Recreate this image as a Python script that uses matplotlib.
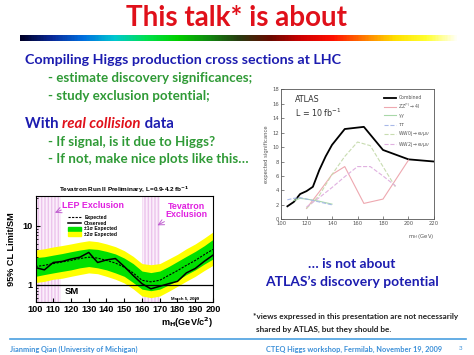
import numpy as np
import matplotlib
matplotlib.use("Agg")
import matplotlib.pyplot as plt
from matplotlib.colors import LinearSegmentedColormap
from matplotlib.patches import Patch
from matplotlib.lines import Line2D
from matplotlib.ticker import NullFormatter

W, H = 474, 355

# Tevatron Run II combined limit / SM, read every 5 GeV
tev_mass = [100, 105, 110, 115, 120, 125, 130, 135, 140, 145, 150,
            155, 160, 165, 170, 175, 180, 185, 190, 195, 200]
tev_expected = [2.05, 2.15, 2.3, 2.45, 2.6, 2.8, 2.95, 2.85, 2.6, 2.35, 2.0,
                1.6, 1.2, 1.13, 1.2, 1.45, 1.75, 2.15, 2.6, 3.25, 4.0]
tev_observed = [1.97, 1.8, 2.4, 2.5, 2.75, 2.95, 3.55, 2.4, 2.65, 2.8, 2.05,
                1.45, 1.05, 0.86, 0.95, 1.05, 1.15, 1.6, 1.9, 2.5, 3.2]
tev_plus1 = [2.9, 3.0, 3.2, 3.4, 3.65, 3.9, 4.1, 4.0, 3.7, 3.35, 2.85,
             2.3, 1.72, 1.62, 1.72, 2.05, 2.5, 3.05, 3.7, 4.6, 5.9]
tev_minus1 = [1.4, 1.5, 1.6, 1.7, 1.8, 1.95, 2.05, 1.95, 1.8, 1.6, 1.4,
              1.1, 0.85, 0.8, 0.85, 1.0, 1.2, 1.5, 1.8, 2.25, 2.75]
tev_plus2 = [3.9, 4.1, 4.4, 4.65, 4.95, 5.3, 5.6, 5.4, 4.95, 4.45, 3.8,
             3.05, 2.3, 2.2, 2.3, 2.75, 3.3, 4.1, 4.95, 6.2, 7.9]
tev_minus2 = [1.1, 1.15, 1.25, 1.3, 1.4, 1.5, 1.6, 1.55, 1.4, 1.25, 1.08,
              0.86, 0.65, 0.61, 0.65, 0.78, 0.95, 1.16, 1.4, 1.75, 2.15]
lep_excl = (100, 114.4)
tev_excl = (160, 170)

# ATLAS expected significance, L = 10 fb-1
comb_mass = [105, 110, 115, 120, 125, 130, 135, 140, 150, 165, 180, 200, 220]
comb_sig = [1.8, 2.4, 3.5, 3.9, 4.5, 6.8, 8.7, 10.3, 12.5, 12.8, 9.6, 8.3, 8.0]
zz_mass = [120, 130, 140, 150, 165, 180, 200]
zz_sig = [1.5, 3.8, 6.2, 7.3, 2.2, 2.8, 8.2]
gg_mass = [110, 115, 120, 130, 140]
gg_sig = [2.6, 2.9, 2.8, 2.5, 2.1]
tt_mass = [105, 110, 115, 120, 130, 140]
tt_sig = [2.7, 2.9, 3.0, 2.8, 2.4, 2.0]
ww0_mass = [120, 130, 140, 150, 160, 170, 180, 190]
ww0_sig = [1.5, 3.3, 6.2, 8.7, 10.7, 10.2, 7.3, 4.4]
ww2_mass = [120, 130, 140, 150, 160, 170, 180, 190]
ww2_sig = [1.7, 3.0, 4.4, 5.9, 7.3, 7.3, 6.0, 4.6]


def fx(x):
    return x / W


def fy(y):
    return 1 - y / H


fig = plt.figure(figsize=(W / 100, H / 100), dpi=100)
fig.patch.set_facecolor('white')

SLIDE = 'Lato'
CHART = 'Liberation Sans'
BLUE = '#1c1cb0'
GREEN = '#2f9a36'
RED = '#e0101a'

# title + rainbow bar
fig.text(0.5, fy(18), "This talk* is about", ha='center', va='center',
         color=RED, fontsize=20, fontweight='bold', family=SLIDE)
rainbow = LinearSegmentedColormap.from_list('bar', [
    '#000028', '#0a2a9a', '#0070e0', '#00c8d0', '#00e050', '#00d000',
    '#108a10', '#2a3a10', '#6a0a00', '#d00000', '#ff1000', '#ff7a00',
    '#ffe000', '#ffff30', '#ffffff'])
axg = fig.add_axes([fx(20), fy(41), fx(438), 6 / H])
axg.imshow(np.linspace(0, 1, 400)[None, :], aspect='auto', cmap=rainbow)
axg.axis('off')

# bullet text
fig.text(fx(25), fy(60), "Compiling Higgs production cross sections at LHC",
         color=BLUE, fontsize=10.3, fontweight='bold', family=SLIDE, va='center')
fig.text(fx(48), fy(78), "- estimate discovery significances;",
         color=GREEN, fontsize=9.6, fontweight='bold', family=SLIDE, va='center')
fig.text(fx(48), fy(96), "- study exclusion potential;",
         color=GREEN, fontsize=9.6, fontweight='bold', family=SLIDE, va='center')
fig.text(fx(48), fy(142), "- If signal, is it due to Higgs?",
         color=GREEN, fontsize=9.6, fontweight='bold', family=SLIDE, va='center')
fig.text(fx(48), fy(159), "- If not, make nice plots like this\u2026",
         color=GREEN, fontsize=9.6, fontweight='bold', family=SLIDE, va='center')

renderer = fig.canvas.get_renderer()
t1 = fig.text(fx(25), fy(124), "With ", color=BLUE, fontsize=10.8,
              fontweight='bold', family=SLIDE, va='center')
x1 = t1.get_window_extent(renderer).x1 / W
t2 = fig.text(x1, fy(124), "real collision", color=RED, fontsize=10.8,
              fontweight='bold', style='italic', family=SLIDE, va='center')
x2 = t2.get_window_extent(renderer).x1 / W
fig.text(x2, fy(124), " data", color=BLUE, fontsize=10.8,
         fontweight='bold', family=SLIDE, va='center')

fig.text(fx(352), fy(264), "\u2026 is not about", color=BLUE, fontsize=10,
         fontweight='bold', family=SLIDE, ha='center', va='center')
fig.text(fx(352), fy(282), "ATLAS\u2019s discovery potential", color=BLUE,
         fontsize=10, fontweight='bold', family=SLIDE, ha='center', va='center')
fig.text(fx(253), fy(316), "*views expressed in this presentation are not necessarily",
         color='#222222', fontsize=5.85, fontweight='bold', family=SLIDE, va='center')
fig.text(fx(256), fy(329), "shared by ATLAS, but they should be.",
         color='#222222', fontsize=5.85, fontweight='bold', family=SLIDE, va='center')

# footer
fig.add_artist(Line2D([fx(10), fx(466)], [fy(339), fy(339)], color='#4aa0e0', lw=1.2))
fig.text(fx(10), fy(349), "Jianming Qian (University of Michigan)", color='#3a8fd8',
         fontsize=5.3, fontweight='bold', family=SLIDE, va='center')
fig.text(fx(442), fy(349), "CTEQ Higgs workshop, Fermilab, November 19, 2009",
         color='#3a8fd8', fontsize=5.3, fontweight='bold', family=SLIDE,
         ha='right', va='center')
fig.text(fx(461), fy(349), "3", color='#3a8fd8', fontsize=4.5,
         family=SLIDE, ha='center', va='center')

# ---- Tevatron limit plot ----
axL = fig.add_axes([fx(35.5), fy(302), 177.5 / W, 106 / H])
axL.set_yscale('log')
axL.set_xlim(100, 200)
axL.set_ylim(0.515, 32)
for lo, hi in (lep_excl, tev_excl):
    axL.axvspan(lo, hi, facecolor='#fbeefb', edgecolor='#ecc4ec',
                hatch='|||||', lw=0, zorder=0)
axL.fill_between(tev_mass, tev_minus2, tev_plus2, color='#ffff00', lw=0, zorder=1)
axL.fill_between(tev_mass, tev_minus1, tev_plus1, color='#00e000', lw=0, zorder=2)
axL.plot(tev_mass, tev_expected, color='k', ls=(0, (2, 1.2)), lw=0.8, zorder=3)
axL.plot(tev_mass, tev_observed, color='k', lw=1.1, zorder=4)
axL.axhline(1, color='k', lw=0.9, zorder=3)
axL.set_xticks(range(100, 201, 10))
axL.set_yticks([1, 10])
axL.set_yticklabels(['1', '10'])
axL.yaxis.set_minor_formatter(NullFormatter())
axL.tick_params(which='both', direction='in', labelsize=6.6, pad=2, length=3)
axL.tick_params(which='minor', length=1.5)
for lab in axL.get_xticklabels() + axL.get_yticklabels():
    lab.set_fontweight('bold')
    lab.set_family(CHART)
axL.set_ylabel("95% CL Limit/SM", fontsize=6.6, fontweight='bold', family=CHART,
               labelpad=5)
axL.text(1.0, -0.2, r"m$_\mathbf{H}$(GeV/c$^\mathbf{2}$)", transform=axL.transAxes,
         ha='right', va='center', fontsize=6.6, fontweight='bold', family=CHART)
axL.set_title(r"Tevatron Run II Preliminary, L=0.9-4.2 fb$^{\mathbf{-1}}$",
              fontsize=4.6, fontweight='bold', family=CHART, pad=3)
axL.text(132.5, 22.5, "LEP Exclusion", color='#e020e0', fontsize=6.4,
         fontweight='bold', family=CHART, ha='center', va='center')
axL.text(185, 18, "Tevatron\nExclusion", color='#e020e0', fontsize=6.4,
         fontweight='bold', family=CHART, ha='center', va='center', linespacing=0.9)
axL.annotate("", xy=(109.5, 16), xytext=(116, 19.3),
             arrowprops=dict(arrowstyle='->', color='#c060d0', lw=0.7))
axL.annotate("", xy=(167.3, 9.7), xytext=(174, 12.4),
             arrowprops=dict(arrowstyle='->', color='#c060d0', lw=0.7))
axL.text(120.5, 0.77, "SM", fontsize=6.8, fontweight='bold', family=CHART,
         ha='center', va='center')
axL.text(184.5, 0.585, "March 5, 2009", fontsize=3.2, fontweight='bold',
         family=CHART, ha='center', va='center')
handles = [Line2D([], [], color='k', ls=(0, (2, 1.2)), lw=0.8),
           Line2D([], [], color='k', lw=1.1),
           Patch(color='#00e000'), Patch(color='#ffff00')]
labels = ["Expected", "Observed", "\u00b11\u03c3 Expected", "\u00b12\u03c3 Expected"]
legL = axL.legend(handles, labels, loc='upper left', bbox_to_anchor=(0.17, 0.84),
                  frameon=False, handlelength=2.6, handleheight=1.0,
                  labelspacing=0.1, borderpad=0, handletextpad=0.6,
                  prop={'size': 3.6, 'weight': 'bold', 'family': CHART})

# ---- ATLAS significance plot ----
axR = fig.add_axes([fx(281), fy(219.3), 153 / W, 130 / H])
axR.set_xlim(100, 220)
axR.set_ylim(0, 18)
axR.plot(comb_mass, comb_sig, color='k', lw=1.3, label="Combined")
axR.plot(zz_mass, zz_sig, color='#eea8b0', lw=0.8, label=r"ZZ$^{(*)}\rightarrow$4l")
axR.plot(gg_mass, gg_sig, color='#a8d8a8', lw=0.8, label=r"$\gamma\gamma$")
axR.plot(tt_mass, tt_sig, color='#a8b8e8', lw=0.8, ls='--', label=r"$\tau\tau$")
axR.plot(ww0_mass, ww0_sig, color='#c8dcb0', lw=0.8, ls='--',
         label=r"WW0j$\rightarrow$e$\nu\mu\nu$")
axR.plot(ww2_mass, ww2_sig, color='#e0b0e0', lw=0.8, ls='--',
         label=r"WW2j$\rightarrow$e$\nu\mu\nu$")
axR.set_xticks(range(100, 221, 20))
axR.set_yticks(range(0, 19, 2))
axR.tick_params(direction='in', labelsize=3.8, labelcolor='#555555', length=2,
                width=0.5, pad=1.5, color='#555555')
for s in axR.spines.values():
    s.set_color('#555555')
    s.set_linewidth(0.6)
axR.set_ylabel("expected significance", fontsize=3.8, color='#555555', labelpad=2)
axR.text(1.0, -0.13, r"m$_H$ (GeV)", transform=axR.transAxes, ha='right',
         va='center', fontsize=3.8, color='#555555')
axR.text(0.09, 0.92, "ATLAS", transform=axR.transAxes, fontsize=5.8,
         color='#333333', va='center')
axR.text(0.09, 0.82, r"L = 10 fb$^{-1}$", transform=axR.transAxes, fontsize=5.8,
         color='#333333', va='center')
axR.legend(loc='upper right', bbox_to_anchor=(0.99, 0.97), frameon=False,
           fontsize=3.3, handlelength=2.6, labelspacing=0.25, borderpad=0,
           handletextpad=0.5, labelcolor='#555555')

fig.savefig('out.png', dpi=100)
